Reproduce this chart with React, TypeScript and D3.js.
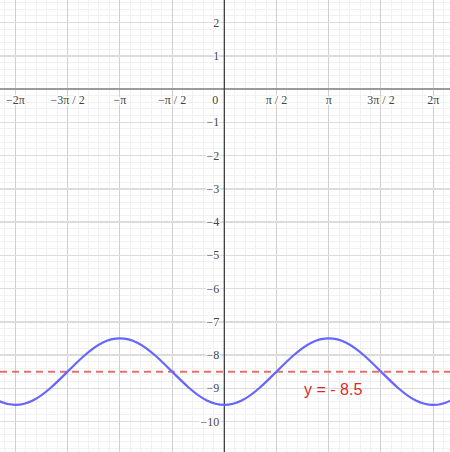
import React, { useEffect, useRef } from "react";
import * as d3 from "d3";

// tick labels along the x axis, in multiples of pi
const xTickMultiples = [-2, -1.5, -1, -0.5, 0.5, 1, 1.5, 2];
const xTickLabels = ["−2π", "−3π / 2", "−π", "−π / 2", "π / 2", "π", "3π / 2", "2π"];

const yTickValues = [2, 1, -1, -2, -3, -4, -5, -6, -7, -8, -9, -10];
const yTickLabels = ["2", "1", "−1", "−2", "−3", "−4", "−5", "−6", "−7", "−8", "−9", "−10"];

// curve samples, x in steps of pi/6
const curveSteps = [-14, -13, -12, -11, -10, -9, -8, -7, -6, -5, -4, -3, -2, -1, 0, 1, 2, 3, 4, 5, 6, 7, 8, 9, 10, 11, 12, 13, 14];
const curveValues = [
  -9.0, -9.37, -9.5, -9.37, -9.0, -8.5, -8.0, -7.63, -7.5, -7.63, -8.0, -8.5, -9.0, -9.37,
  -9.5,
  -9.37, -9.0, -8.5, -8.0, -7.63, -7.5, -7.63, -8.0, -8.5, -9.0, -9.37, -9.5, -9.37, -9.0,
];

const dashedLevel = -8.5;
const dashedLabel = "y = - 8.5";
const labelAt = { x: 2.4, y: -9.0 };

export default function App() {
  const svgRef = useRef<SVGSVGElement>(null);

  useEffect(() => {
    if (!svgRef.current) return;
    const width = 450;
    const height = 452;
    const unit = 33.25;
    const originX = 224.3;
    const originY = 89;

    const svg = d3.select(svgRef.current);
    svg.selectAll("*").remove();
    svg.attr("width", width).attr("height", height).attr("viewBox", [0, 0, width, height]);

    const xMin = -originX / unit;
    const xMax = (width - originX) / unit;
    const yMax = originY / unit;
    const yMin = -(height - originY) / unit;

    const x = d3.scaleLinear().domain([xMin, xMax]).range([0, width]);
    const y = d3.scaleLinear().domain([yMin, yMax]).range([height, 0]);

    svg.append("rect").attr("width", width).attr("height", height).attr("fill", "white");

    // Minor grid
    const minorX = d3.range(Math.ceil(xMin / (Math.PI / 10)), Math.floor(xMax / (Math.PI / 10)) + 1).map(k => k * Math.PI / 10);
    const minorY = d3.range(Math.ceil(yMin / 0.2), Math.floor(yMax / 0.2) + 1).map(k => k * 0.2);
    const grid = svg.append("g").attr("shape-rendering", "crispEdges");
    grid.selectAll(".mx").data(minorX).join("line")
      .attr("x1", d => x(d)).attr("x2", d => x(d)).attr("y1", 0).attr("y2", height)
      .attr("stroke", "#f1f1f1").attr("stroke-width", 1);
    grid.selectAll(".my").data(minorY).join("line")
      .attr("y1", d => y(d)).attr("y2", d => y(d)).attr("x1", 0).attr("x2", width)
      .attr("stroke", "#f1f1f1").attr("stroke-width", 1);

    // Major grid
    const majorX = d3.range(Math.ceil(xMin / (Math.PI / 2)), Math.floor(xMax / (Math.PI / 2)) + 1).map(k => k * Math.PI / 2);
    const majorY = d3.range(Math.ceil(yMin), Math.floor(yMax) + 1);
    const grid2 = svg.append("g").attr("shape-rendering", "crispEdges");
    grid2.selectAll("line.vx").data(majorX).join("line")
      .attr("x1", d => x(d)).attr("x2", d => x(d)).attr("y1", 0).attr("y2", height)
      .attr("stroke", "#cfcfcf").attr("stroke-width", 1);
    grid2.selectAll("line.hy").data(majorY).join("line")
      .attr("class", "hy")
      .attr("y1", d => y(d)).attr("y2", d => y(d)).attr("x1", 0).attr("x2", width)
      .attr("stroke", "#dcdcdc").attr("stroke-width", 1.5);

    // Axes
    svg.append("line")
      .attr("x1", 0).attr("x2", width).attr("y1", y(0)).attr("y2", y(0))
      .attr("stroke", "#9a9a9a").attr("stroke-width", 2);
    svg.append("line")
      .attr("x1", x(0)).attr("x2", x(0)).attr("y1", 0).attr("y2", height)
      .attr("stroke", "#333").attr("stroke-width", 1.2);

    // Tick labels
    const labels = svg.append("g")
      .attr("font-family", "'Liberation Serif', 'DejaVu Serif', serif")
      .attr("font-size", 12)
      .attr("fill", "#444")
      .attr("stroke", "white")
      .attr("stroke-width", 2.5)
      .attr("paint-order", "stroke");

    labels.selectAll(".xl").data(xTickMultiples).join("text")
      .attr("x", d => x(d * Math.PI))
      .attr("y", y(0) + 15)
      .attr("text-anchor", "middle")
      .text((d, i) => xTickLabels[i]);

    labels.append("text")
      .attr("x", x(0) - 9)
      .attr("y", y(0) + 15)
      .attr("text-anchor", "middle")
      .text("0");

    labels.selectAll(".yl").data(yTickValues).join("text")
      .attr("class", "yl")
      .attr("x", x(0) - 5)
      .attr("y", d => y(d) + 4)
      .attr("text-anchor", "end")
      .text((d, i) => yTickLabels[i]);

    // Dashed horizontal line
    svg.append("line")
      .attr("x1", 0).attr("x2", width)
      .attr("y1", y(dashedLevel)).attr("y2", y(dashedLevel))
      .attr("stroke", "#e05555")
      .attr("stroke-opacity", 0.85)
      .attr("stroke-width", 2)
      .attr("stroke-dasharray", "7,5");

    // Curve
    const points = curveSteps.map((k, i) => [k * Math.PI / 6, curveValues[i]] as [number, number]);
    const line = d3.line<[number, number]>()
      .x(d => x(d[0]))
      .y(d => y(d[1]))
      .curve(d3.curveNatural);
    svg.append("path")
      .datum(points)
      .attr("d", line)
      .attr("fill", "none")
      .attr("stroke", "#6666ff")
      .attr("stroke-width", 2.2);

    // Annotation
    svg.append("text")
      .attr("x", x(labelAt.x))
      .attr("y", y(labelAt.y) + 6.5)
      .attr("font-family", "'Liberation Sans', Arial, sans-serif")
      .attr("font-size", 16)
      .attr("fill", "#dd2b2b")
      .text(dashedLabel);
  }, []);

  return (
    <svg ref={svgRef} style={{ position: "absolute", left: 0, top: 0, display: "block" }}></svg>
  );
}
